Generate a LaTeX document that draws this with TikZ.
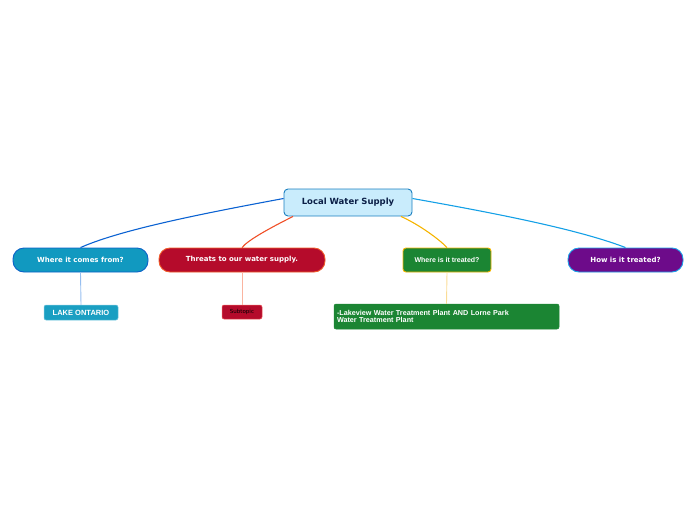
\documentclass[tikz,border=0pt]{standalone}
\usepackage{fontspec}
\setmainfont{DejaVu Sans}
\newfontfamily\arialf{Liberation Sans}
\begin{document}
\begin{tikzpicture}[x=1pt,y=-1pt,
  box/.style={draw,line width=0.9pt,inner sep=0pt,text=white,font=\fontsize{7}{8}\selectfont\bfseries},
  pill/.style={box,rounded corners=11pt},
  sub/.style={draw,line width=0.5pt,inner sep=0pt,rounded corners=2pt,text=white,font=\arialf\fontsize{6.6}{7}\selectfont\bfseries},
  conn/.style={line width=1.1pt},
  subconn/.style={line width=0.9pt}]
\useasboundingbox (0,0) rectangle (696,520);
\definecolor{rootfill}{HTML}{C9ECFC}
\node[box,rounded corners=4pt,fill=rootfill,draw={rgb,255:red,26;green,127;blue,192},text={rgb,255:red,10;green,30;blue,70},minimum width=128pt,minimum height=27pt,font=\fontsize{8.5}{10}\selectfont\bfseries] (root) at (348,202.5) {Local Water Supply};
\node[pill,fill={rgb,255:red,17;green,153;blue,192},draw={rgb,255:red,11;green,98;blue,200},minimum width=135pt,minimum height=24pt] (a) at (80.5,260) {Where it comes from?};
\node[pill,fill={rgb,255:red,181;green,11;blue,43},draw={rgb,255:red,240;green,90;blue,40},minimum width=166pt,minimum height=24pt] (b) at (242,260) {Threats to our water supply.};
\node[box,rounded corners=3pt,fill={rgb,255:red,27;green,133;blue,51},draw={rgb,255:red,245;green,180;blue,0},minimum width=88pt,minimum height=24pt,font=\arialf\fontsize{7}{8}\selectfont\bfseries] (c) at (447,260) {Where is it treated?};
\node[pill,fill={rgb,255:red,109;green,11;blue,138},draw={rgb,255:red,26;green,160;blue,232},minimum width=115pt,minimum height=24pt] (d) at (625.5,260) {How is it treated?};
\node[sub,fill={rgb,255:red,26;green,159;blue,194},draw={rgb,255:red,120;green,200;blue,225},minimum width=74pt,minimum height=15pt,font=\arialf\fontsize{7.5}{8}\selectfont\bfseries] (a1) at (81,312.5) {LAKE ONTARIO};
\node[sub,fill={rgb,255:red,181;green,11;blue,43},draw={rgb,255:red,240;green,90;blue,90},text=black,minimum width=40pt,minimum height=14pt,font=\fontsize{5.5}{6}\selectfont] (b1) at (242,312) {Subtopic};
\node[sub,fill={rgb,255:red,27;green,133;blue,51},draw={rgb,255:red,27;green,133;blue,51},minimum width=225pt,minimum height=25pt,align=left,text width=219pt,font=\arialf\fontsize{7.2}{7.6}\selectfont\bfseries] (c1) at (446.5,316.5) {-Lakeview Water Treatment Plant AND Lorne Park\\Water Treatment Plant};
\draw[conn,draw={rgb,255:red,11;green,98;blue,210}] ([yshift=4pt]root.west) .. controls (200,214) and (120,230) .. (a.north);
\draw[conn,draw={rgb,255:red,240;green,80;blue,40}] ([xshift=-55pt]root.south) .. controls (270,228) and (248,240) .. (b.north);
\draw[conn,draw={rgb,255:red,245;green,180;blue,0}] ([xshift=53pt]root.south) .. controls (420,225) and (440,240) .. (c.north);
\draw[conn,draw={rgb,255:red,20;green,160;blue,230}] ([yshift=4pt]root.east) .. controls (500,214) and (580,230) .. (d.north);
\draw[subconn,draw={rgb,255:red,150;green,190;blue,240}] (a.south) -- (a1.north);
\draw[subconn,draw={rgb,255:red,250;green,180;blue,160}] (b.south) -- (b1.north);
\draw[subconn,draw={rgb,255:red,250;green,220;blue,150}] (c.south) -- (c1.north);
\end{tikzpicture}
\end{document}
